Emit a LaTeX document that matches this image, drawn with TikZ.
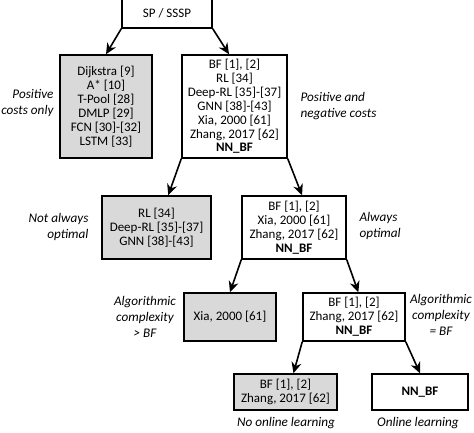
\documentclass[tikz,border=0pt]{standalone}
\usepackage{fontspec}
\setmainfont{Carlito}
\usetikzlibrary{arrows.meta}
\definecolor{gris}{HTML}{D9D9D9}
\tikzset{
  caja/.style={draw, line width=1.5pt, align=center, inner sep=1pt,
               font=\fontsize{13}{13.9}\selectfont},
  cajagris/.style={caja, fill=gris},
  nota/.style={font=\fontsize{13.2}{15.8}\selectfont\itshape},
  flecha/.style={line width=1.6pt, -{Stealth[length=11pt,width=10pt]}}
}
\begin{document}
\begin{tikzpicture}[x=1pt,y=-1pt]
    \useasboundingbox (0,0) rectangle (474,432);
    % Raiz
    \node[caja, minimum width=90pt, minimum height=29pt] (sp) at (167,13.5) {SP / SSSP};
    % Primer nivel
    \node[cajagris, minimum width=92pt, minimum height=103pt] (pos) at (106,106.5)
        {Dijkstra [9]\\A* [10]\\T-Pool [28]\\DMLP [29]\\FCN [30]-[32]\\LSTM [33]};
    \node[caja, minimum width=105pt, minimum height=103pt] (posneg) at (234.5,106.5)
        {BF [1], [2]\\RL [34]\\Deep-RL [35]-[37]\\GNN [38]-[43]\\Xia, 2000 [61]\\Zhang, 2017 [62]\\\textbf{NN\_BF}};
    % Segundo nivel
    \node[cajagris, minimum width=109pt, minimum height=63pt] (noopt) at (156.5,227.5)
        {RL [34]\\Deep-RL [35]-[37]\\GNN [38]-[43]};
    \node[caja, minimum width=104pt, minimum height=63pt] (opt) at (294,227.5)
        {BF [1], [2]\\Xia, 2000 [61]\\Zhang, 2017 [62]\\\textbf{NN\_BF}};
    % Tercer nivel
    \node[cajagris, minimum width=92pt, minimum height=48pt] (xia) at (230,317)
        {Xia, 2000 [61]};
    \node[caja, minimum width=102pt, minimum height=48pt] (igual) at (354,317)
        {BF [1], [2]\\Zhang, 2017 [62]\\\textbf{NN\_BF}};
    % Cuarto nivel
    \node[cajagris, minimum width=103pt, minimum height=36pt] (sinol) at (285.5,392)
        {BF [1], [2]\\Zhang, 2017 [62]};
    \node[caja, minimum width=96pt, minimum height=36pt] (conol) at (420,392)
        {\textbf{NN\_BF}};
    % Flechas
    \draw[flecha] (sp.south west)     -- (pos.north);
    \draw[flecha] (sp.south east)     -- (posneg.96);
    \draw[flecha] (posneg.south west) -- (noopt.70);
    \draw[flecha] (posneg.south east) -- (opt.76);
    \draw[flecha] (opt.south west)    -- (xia.north);
    \draw[flecha] (opt.south east)    -- (igual.80);
    \draw[flecha] (igual.south west)  -- (sinol.67);
    \draw[flecha] (igual.south east)  -- (conol.north);
    % Anotaciones
    \node[nota, anchor=east, align=right] (n1) at (57,103) {Positive\\costs only};
    \node[nota, anchor=west, align=left]  (n2) at (297,106) {Positive and\\negative costs};
    \node[nota, anchor=east, align=right] (n3) at (92,227) {Not always\\optimal};
    \node[nota, anchor=west, align=left]  (n4) at (356,226) {Always\\optimal};
    \node[nota, align=center] (n5) at (145,317) {Algorithmic\\complexity\\> BF};
    \node[nota, align=center] (n6) at (441,315) {Algorithmic\\complexity\\= BF};
    \node[nota] (n7) at (286,423) {No online learning};
    \node[nota] (n8) at (418,423) {Online learning};
\end{tikzpicture}
\end{document}
